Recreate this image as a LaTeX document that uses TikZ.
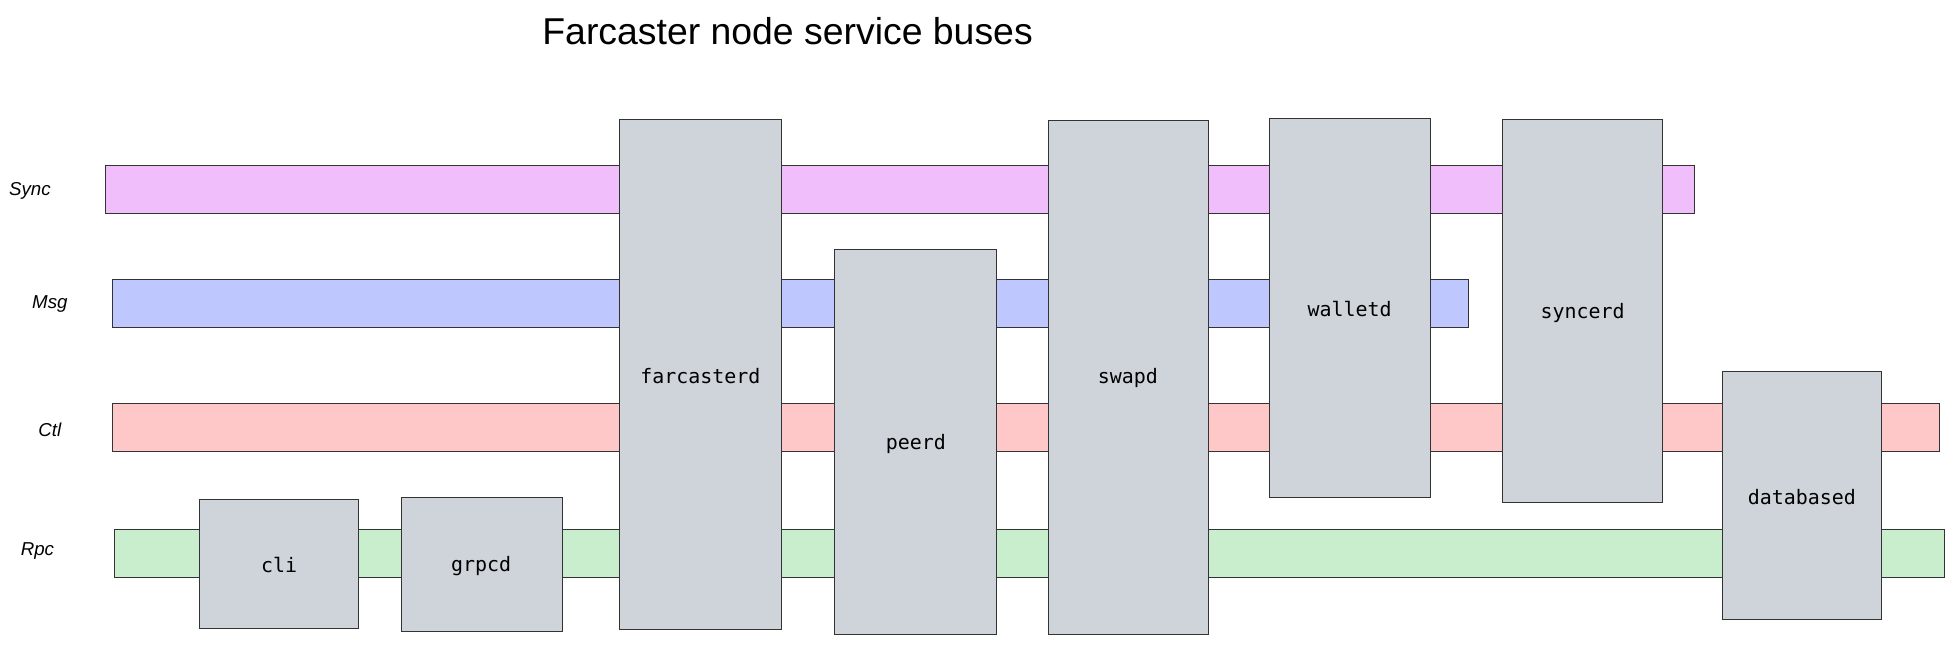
\documentclass[tikz,border=0pt]{standalone}
\usepackage{fontspec}
\setmainfont{Liberation Sans}
\newfontfamily\monof{DejaVu Sans Mono}
\begin{document}
\begin{tikzpicture}[x=1pt,y=-1pt,
  bus/.style={draw=black!80,line width=0.7pt},
  svc/.style={draw=black!80,line width=0.8pt,fill=gray!30!blue!8!gray!35,inner sep=0},
  lbl/.style={font=\monof\fontsize{16}{18}\selectfont},
  side/.style={font=\fontsize{15}{17}\selectfont\itshape}]
\useasboundingbox (0,0) rectangle (1568,518);
\fill[white] (0,0) rectangle (1568,518);
\node[font=\fontsize{30}{34}\selectfont] (title) at (632,25) {Farcaster node service buses};
\node[side] (lsync) at (24,153) {Sync};
\node[side] (lmsg) at (40,244) {Msg};
\node[side] (lctl) at (40,345) {Ctl};
\node[side] (lrpc) at (30,442) {Rpc};
\draw[bus,fill={rgb,255:red,240;green,190;blue,250}] (85,133) rectangle (1360,171);
\draw[bus,fill={rgb,255:red,190;green,200;blue,255}] (90,224) rectangle (1178,263);
\draw[bus,fill={rgb,255:red,255;green,200;blue,200}] (90,324) rectangle (1556,362);
\draw[bus,fill={rgb,255:red,200;green,238;blue,205}] (92,425) rectangle (1560,463);
\definecolor{boxg}{RGB}{206,212,218}
\tikzset{svc/.append style={fill=boxg}}
\draw[svc] (160,401) rectangle (288,504); \node[lbl] (cli) at (224,453) {cli};
\draw[svc] (322,399) rectangle (451,507); \node[lbl] (grpcd) at (386,454) {grpcd};
\draw[svc] (497,96) rectangle (627,505); \node[lbl] (farcasterd) at (562,302) {farcasterd};
\draw[svc] (670,200) rectangle (800,509); \node[lbl] (peerd) at (735,356) {peerd};
\draw[svc] (841,97) rectangle (970,509); \node[lbl] (swapd) at (905,303) {swapd};
\draw[svc] (1019,95) rectangle (1148,399); \node[lbl] (walletd) at (1083,248) {walletd};
\draw[svc] (1206,96) rectangle (1334,403); \node[lbl] (syncerd) at (1270,251) {syncerd};
\draw[svc] (1382,298) rectangle (1510,497); \node[lbl] (databased) at (1446,399) {databased};
\end{tikzpicture}
\end{document}
